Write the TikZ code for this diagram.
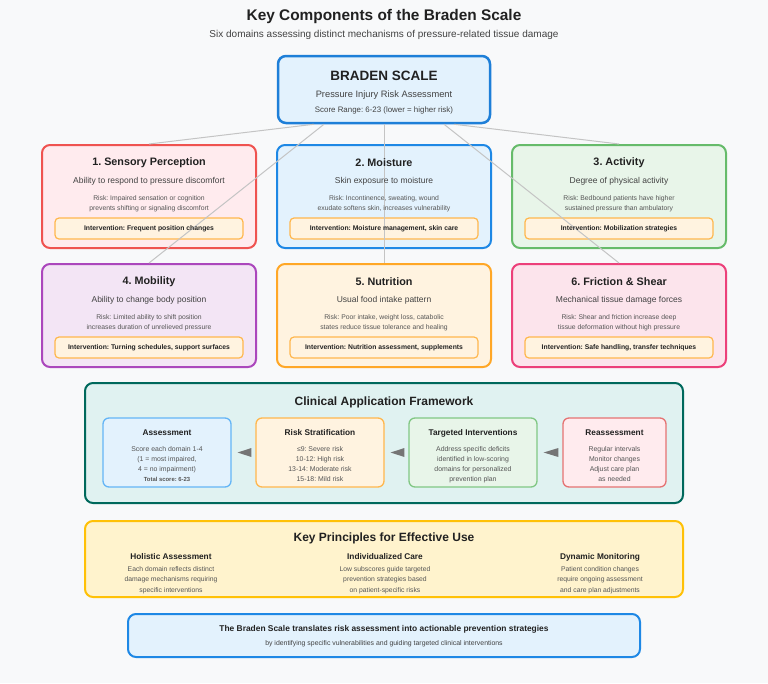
\documentclass[tikz,border=0pt]{standalone}
\usepackage{fontspec}
\setmainfont{Liberation Sans}
\usetikzlibrary{calc}
\frenchspacing
\definecolor{bg}{HTML}{F8F9FA}
\definecolor{ink}{HTML}{212121}
\definecolor{body}{HTML}{424242}
\definecolor{soft}{HTML}{555555}
\definecolor{sensD}{HTML}{EF5350}\definecolor{sensF}{HTML}{FFEBEE}
\definecolor{moistD}{HTML}{1E88E5}\definecolor{moistF}{HTML}{E3F2FD}
\definecolor{actD}{HTML}{66BB6A}\definecolor{actF}{HTML}{E8F5E9}
\definecolor{mobD}{HTML}{AB47BC}\definecolor{mobF}{HTML}{F3E5F5}
\definecolor{nutD}{HTML}{FFA726}\definecolor{nutF}{HTML}{FFF3E0}
\definecolor{fricD}{HTML}{EC407A}\definecolor{fricF}{HTML}{FCE4EC}
\definecolor{intD}{HTML}{FFB74D}\definecolor{intF}{HTML}{FFF3E0}
\definecolor{bradD}{HTML}{1E7FD8}\definecolor{bradF}{HTML}{E3F2FD}
\definecolor{clinD}{HTML}{00695C}\definecolor{clinF}{HTML}{E0F2F1}
\definecolor{asD}{HTML}{64B5F6}
\definecolor{tgD}{HTML}{81C784}
\definecolor{reD}{HTML}{E57373}
\definecolor{keyD}{HTML}{FFC107}\definecolor{keyF}{HTML}{FFF3CD}
\definecolor{conn}{HTML}{C4C4C4}
\definecolor{arr}{HTML}{757575}
\begin{document}
\begin{tikzpicture}[x=1pt,y=-1pt,
  panel/.style={draw, line width=2pt, rounded corners=8pt, inner sep=0pt},
  dbox/.style={panel, minimum width=214pt, minimum height=103pt},
  ibox/.style={draw=intD, fill=intF, line width=1.2pt, rounded corners=4pt, inner sep=0pt, minimum width=188pt, minimum height=21pt},
  sbox/.style={draw, line width=1.3pt, rounded corners=6pt, inner sep=0pt, minimum height=69pt},
  link/.style={draw=conn, line width=1pt},
  txt/.style={inner sep=0pt, align=center},
  mtitle/.style={txt, text=ink, font=\bfseries\fontsize{15.4}{18}\selectfont},
  msub/.style={txt, text=body, font=\fontsize{10}{12}\selectfont},
  dtitle/.style={txt, text=ink, font=\bfseries\fontsize{10.8}{13}\selectfont},
  dsub/.style={txt, text=body, font=\fontsize{8.5}{10}\selectfont},
  drisk/.style={txt, text=soft, font=\fontsize{6.8}{10}\selectfont},
  dint/.style={txt, text=ink, font=\bfseries\fontsize{6.8}{8}\selectfont},
  ftitle/.style={txt, text=ink, font=\bfseries\fontsize{12}{14}\selectfont},
  stitle/.style={txt, text=ink, font=\bfseries\fontsize{8.3}{10}\selectfont},
  sbody/.style={txt, text=soft, font=\fontsize{6.9}{10}\selectfont},
  kbody/.style={txt, text=soft, font=\fontsize{6.8}{10.5}\selectfont},
  tri/.style={fill=arr}
]
\fill[bg] (0,0) rectangle (768,683);
\useasboundingbox (0,0) rectangle (768,683);

% title
\node[mtitle] (title) at (384,17) {Key Components of the Braden Scale};
\node[msub] (subtitle) at (384,35) {Six domains assessing distinct mechanisms of pressure-related tissue damage};

\node[panel, draw=bradD, fill=bradF, line width=2.5pt, minimum width=212pt, minimum height=67pt] (braden) at (384,89.5) {};

% domain boxes
\node[dbox, draw=sensD, fill=sensF] (sens) at (149,196.5) {};
\node[dbox, draw=moistD, fill=moistF] (moist) at (384,196.5) {};
\node[dbox, draw=actD, fill=actF] (act) at (619,196.5) {};
\node[dbox, draw=mobD, fill=mobF] (mob) at (149,315.5) {};
\node[dbox, draw=nutD, fill=nutF] (nut) at (384,315.5) {};
\node[dbox, draw=fricD, fill=fricF] (fric) at (619,315.5) {};

\node[ibox] (sensI) at (149,228.5) {};
\node[ibox] (moistI) at (384,228.5) {};
\node[ibox] (actI) at (619,228.5) {};
\node[ibox] (mobI) at (149,347.5) {};
\node[ibox] (nutI) at (384,347.5) {};
\node[ibox] (fricI) at (619,347.5) {};

% connectors from the Braden box to each domain
\draw[link] ([xshift=-70pt]braden.south) -- (sens.north);
\draw[link] ([xshift=-60pt]braden.south) -- (mob.north);
\draw[link] (braden.south) -- (moist.north);
\draw[link] (braden.south) -- (nut.north);
\draw[link] ([xshift=60pt]braden.south) -- (fric.north);
\draw[link] ([xshift=70pt]braden.south) -- (act.north);

% Braden texts
\node[txt, text=ink, font=\bfseries\fontsize{13.5}{16}\selectfont] (bT) at (384,76) {BRADEN SCALE};
\node[txt, text=body, font=\fontsize{9.3}{11}\selectfont] (bS) at (384,95) {Pressure Injury Risk Assessment};
\node[txt, text=body, font=\fontsize{7.9}{10}\selectfont] (bR) at (384,110) {Score Range: 6-23 (lower = higher risk)};

% domain texts row 1
\node[dtitle] (sensT) at (149,163) {1. Sensory Perception};
\node[dsub] (sensS) at (149,181) {Ability to respond to pressure discomfort};
\node[drisk] (sensR) at (149,204) {Risk: Impaired sensation or cognition\\prevents shifting or signaling discomfort};
\node[dint] (sensIt) at (sensI) {Intervention: Frequent position changes};

\node[dtitle] (moistT) at (384,163) {2. Moisture};
\node[dsub] (moistS) at (384,181) {Skin exposure to moisture};
\node[drisk] (moistR) at (384,204) {Risk: Incontinence, sweating, wound\\exudate softens skin, increases vulnerability};
\node[dint] (moistIt) at (moistI) {Intervention: Moisture management, skin care};

\node[dtitle] (actT) at (619,163) {3. Activity};
\node[dsub] (actS) at (619,181) {Degree of physical activity};
\node[drisk] (actR) at (619,204) {Risk: Bedbound patients have higher\\sustained pressure than ambulatory};
\node[dint] (actIt) at (actI) {Intervention: Mobilization strategies};

% domain texts row 2
\node[dtitle] (mobT) at (149,282) {4. Mobility};
\node[dsub] (mobS) at (149,300) {Ability to change body position};
\node[drisk] (mobR) at (149,323) {Risk: Limited ability to shift position\\increases duration of unrelieved pressure};
\node[dint] (mobIt) at (mobI) {Intervention: Turning schedules, support surfaces};

\node[dtitle] (nutT) at (384,282) {5. Nutrition};
\node[dsub] (nutS) at (384,300) {Usual food intake pattern};
\node[drisk] (nutR) at (384,323) {Risk: Poor intake, weight loss, catabolic\\states reduce tissue tolerance and healing};
\node[dint] (nutIt) at (nutI) {Intervention: Nutrition assessment, supplements};

\node[dtitle] (fricT) at (619,282) {6. Friction \& Shear};
\node[dsub] (fricS) at (619,300) {Mechanical tissue damage forces};
\node[drisk] (fricR) at (619,323) {Risk: Shear and friction increase deep\\tissue deformation without high pressure};
\node[dint] (fricIt) at (fricI) {Intervention: Safe handling, transfer techniques};

% clinical application framework
\node[panel, draw=clinD, fill=clinF, minimum width=598pt, minimum height=120pt] (clin) at (384,443) {};
\node[ftitle] (clinT) at (384,402) {Clinical Application Framework};

\node[sbox, draw=asD, fill=moistF, minimum width=128pt] (assess) at (167,452.5) {};
\node[sbox, draw=intD, fill=intF, minimum width=128pt] (strat) at (320,452.5) {};
\node[sbox, draw=tgD, fill=actF, minimum width=128pt] (targ) at (473,452.5) {};
\node[sbox, draw=reD, fill=sensF, minimum width=103pt] (reass) at (614.5,452.5) {};

\fill[tri] ($(assess.east)+(6,0)$) -- ($(strat.west)+(-4,-4.5)$) -- ($(strat.west)+(-4,4.5)$) -- cycle;
\fill[tri] ($(strat.east)+(6,0)$) -- ($(targ.west)+(-4,-4.5)$) -- ($(targ.west)+(-4,4.5)$) -- cycle;
\fill[tri] ($(targ.east)+(6,0)$) -- ($(reass.west)+(-4,-4.5)$) -- ($(reass.west)+(-4,4.5)$) -- cycle;

\node[stitle] (assessT) at (167,433) {Assessment};
\node[sbody] (assessB) at (167,464.5) {Score each domain 1-4\\(1 = most impaired,\\4 = no impairment)\\{\bfseries\fontsize{5.9}{10}\selectfont Total score: 6-23}};
\node[stitle] (stratT) at (320,433) {Risk Stratification};
\node[sbody] (stratB) at (320,464.5) {≤9: Severe risk\\10-12: High risk\\13-14: Moderate risk\\15-18: Mild risk};
\node[stitle] (targT) at (473,433) {Targeted Interventions};
\node[sbody] (targB) at (473,464.5) {Address specific deficits\\identified in low-scoring\\domains for personalized\\prevention plan};
\node[stitle] (reassT) at (614.5,433) {Reassessment};
\node[sbody] (reassB) at (614.5,464.5) {Regular intervals\\Monitor changes\\Adjust care plan\\as needed};

% key principles
\node[panel, draw=keyD, fill=keyF, minimum width=598pt, minimum height=76pt] (key) at (384,559) {};
\node[ftitle] (keyT) at (384,538) {Key Principles for Effective Use};
\node[stitle] (k1T) at (171,557) {Holistic Assessment};
\node[kbody] (k1B) at (171,580) {Each domain reflects distinct\\damage mechanisms requiring\\specific interventions};
\node[stitle] (k2T) at (385,557) {Individualized Care};
\node[kbody] (k2B) at (385,580) {Low subscores guide targeted\\prevention strategies based\\on patient-specific risks};
\node[stitle] (k3T) at (600,557) {Dynamic Monitoring};
\node[kbody] (k3B) at (600,580) {Patient condition changes\\require ongoing assessment\\and care plan adjustments};

% bottom summary
\node[panel, draw=moistD, fill=moistF, minimum width=512pt, minimum height=43pt] (sum) at (384,635.5) {};
\node[txt, text=ink, font=\bfseries\fontsize{8.4}{10}\selectfont] (sumT) at (384,629) {The Braden Scale translates risk assessment into actionable prevention strategies};
\node[txt, text=body, font=\fontsize{6.9}{9}\selectfont] (sumB) at (384,644) {by identifying specific vulnerabilities and guiding targeted clinical interventions};
\end{tikzpicture}
\end{document}
